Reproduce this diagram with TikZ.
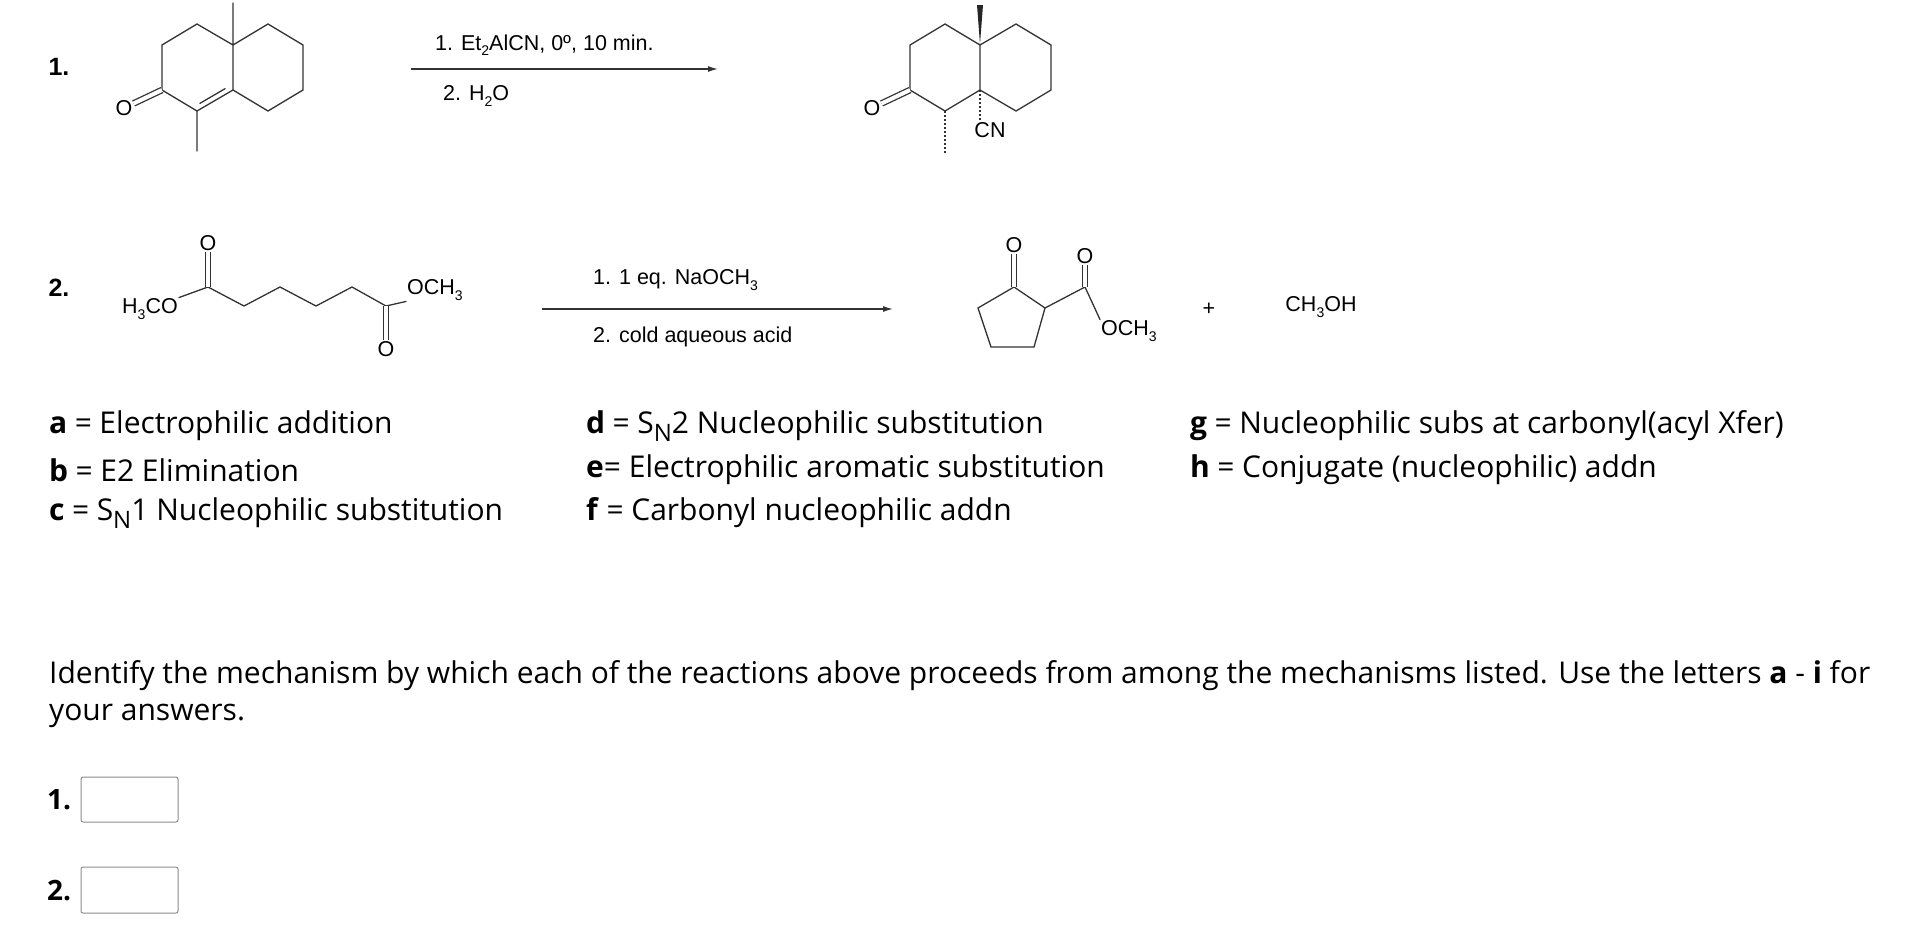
\documentclass[tikz,border=0pt]{standalone}
\usepackage{fontspec}
\usetikzlibrary{calc,arrows.meta}
\setmainfont{Open Sans}
\newfontfamily\ar{Liberation Sans}
\newcommand{\sbs}[1]{\raisebox{-0.25em}{\fontsize{14}{16}\selectfont #1}}
\newcommand{\eqs}{\hspace{0.25em}=\hspace{0.25em}}
\begin{document}
\begin{tikzpicture}[x=1pt,y=-1pt,
 bd/.style={line width=1.3pt,line cap=round,color=black!80},
 dbl/.style={bd,double=white,double distance=4pt,line cap=butt},
 chem/.style={font=\ar\fontsize{21.5}{24}\selectfont,inner sep=1pt},
 lab/.style={font=\ar\bfseries\fontsize{25}{28}\selectfont,inner sep=0pt},
 leg/.style={font=\fontsize{30}{34}\selectfont,anchor=west,inner sep=0pt},
 arr/.style={line width=1.3pt,color=black!80,-{Latex[length=10pt,width=6pt]}}]
\useasboundingbox (0,0) rectangle (1914,940);
% ---------- reaction 1
\node[lab] (l1) at (59,67) {1.};
\coordinate (A) at (197,24); \coordinate (B) at (233,45); \coordinate (C) at (233,90);
\coordinate (D) at (197,111); \coordinate (E) at (162,90); \coordinate (F) at (162,45);
\coordinate (G) at (268,24); \coordinate (H) at (303,45); \coordinate (I) at (303,90);
\coordinate (J) at (268,111); \coordinate (Mu) at (233,3); \coordinate (Md) at (197,151);
\node[chem] (O1) at (124,108) {O};
\draw[bd] (A)--(B)--(C)--(D)--(E)--(F)--cycle (B)--(G)--(H)--(I)--(J)--(C) (B)--(Mu) (D)--(Md);
\draw[bd] ($(C)!0.15!(D)+(-2.5,-4.5)$)--($(C)!0.85!(D)+(-2.5,-4.5)$);
\draw[dbl] (E)--(O1);
\coordinate (a1s) at (411,69); \coordinate (a1e) at (718,69);
\draw[arr] (a1s)--(a1e);
\node[chem,anchor=west] (r1a) at (434,45) {1. Et\sbs{2}AlCN, 0º, 10 min.};
\node[chem,anchor=west] (r1b) at (442,96) {2. H\sbs{2}O};
% product 1
\coordinate (PA) at (945,24); \coordinate (PB) at (980,45); \coordinate (PC) at (980,90);
\coordinate (PD) at (945,111); \coordinate (PE) at (910,90); \coordinate (PF) at (910,45);
\coordinate (PG) at (1016,24); \coordinate (PH) at (1051,45); \coordinate (PI) at (1051,90);
\coordinate (PJ) at (1016,111); \coordinate (PMu) at (980,5); \coordinate (PMd) at (945,153);
\node[chem] (O2) at (872,108) {O};
\node[chem] (CN) at (990,130) {CN};
\draw[bd] (PA)--(PB)--(PC)--(PD)--(PE)--(PF)--cycle (PB)--(PG)--(PH)--(PI)--(PJ)--(PC);
\draw[dbl] (PE)--(O2);
\fill[black!85] ($(PB)+(0,-1)$)--($(PMu)+(-3,0)$)--($(PMu)+(3,0)$)--cycle;
\draw[line width=1.3pt,black!80,dash pattern=on 1.6pt off 2.4pt] (PD)--(PMd);
\draw[line width=1.3pt,black!80,dash pattern=on 1.6pt off 2.4pt] (PC)--(PC|-CN.north);
% ---------- reaction 2
\node[lab] (l2) at (59,288) {2.};
\node[chem] (h3co) at (150,309) {H\sbs{3}CO};
\coordinate (c1) at (208,287); \coordinate (c2) at (244,306); \coordinate (c3) at (280,287);
\coordinate (c4) at (316,306); \coordinate (c5) at (352,287); \coordinate (c6) at (386,306);
\node[chem] (Ot) at (208,243) {O};
\node[chem] (Ob) at (386,349) {O};
\node[chem,anchor=west] (och3a) at (406,290) {OCH\sbs{3}};
\draw[bd] (h3co.north east)--(c1)--(c2)--(c3)--(c4)--(c5)--(c6)--(och3a.south west);
\draw[dbl] (c1)--(Ot); \draw[dbl] (c6)--(Ob);
\coordinate (a2s) at (542,309); \coordinate (a2e) at (893,309);
\draw[arr] (a2s)--(a2e);
\node[chem,anchor=west] (r2a) at (592,280) {1. 1 eq. NaOCH\sbs{3}};
\node[chem,anchor=west] (r2b) at (592,337) {2. cold aqueous acid};
% product 2
\coordinate (k1) at (1014,287); \coordinate (k2) at (1045,308); \coordinate (k3) at (1034,347);
\coordinate (k4) at (991,347); \coordinate (k5) at (978,308); \coordinate (k6) at (1085,287);
\node[chem] (Ok) at (1014,245) {O};
\node[chem] (Oe) at (1085,256) {O};
\node[chem,anchor=west] (och3b) at (1100,331) {OCH\sbs{3}};
\draw[bd] (k1)--(k2)--(k3)--(k4)--(k5)--cycle (k2)--(k6)--(och3b.north west);
\draw[dbl] (k1)--(Ok); \draw[dbl] (k6)--(Oe);
\node[chem] (plus) at (1209,309) {+};
\node[chem] (meoh) at (1321,307) {CH\sbs{3}OH};
% ---------- legend
\node[leg] (la) at (49,426) {\textbf{a}\eqs Electrophilic addition};
\node[leg] (lb) at (49,470) {\textbf{b}\eqs E2 Elimination};
\node[leg] (lc) at (49,513) {\textbf{c}\eqs S\sbs{\fontsize{24}{26}\selectfont N}1 Nucleophilic substitution};
\node[leg] (ld) at (586,426) {\textbf{d}\eqs S\sbs{\fontsize{24}{26}\selectfont N}2 Nucleophilic substitution};
\node[leg] (le) at (586,470) {\textbf{e}= Electrophilic aromatic substitution};
\node[leg] (lf) at (586,513) {\textbf{f}\eqs Carbonyl nucleophilic addn};
\node[leg] (lg) at (1190,426) {\textbf{g}\eqs Nucleophilic subs at carbonyl(acyl Xfer)};
\node[leg] (lh) at (1190,470) {\textbf{h}\eqs Conjugate (nucleophilic) addn};
% ---------- question
\node[leg] (q1) at (49,676) {Identify the mechanism by which each of the reactions above proceeds from among the mechanisms listed. Use the letters \textbf{a} - \textbf{i} for};
\node[leg] (q2) at (49,716) {your answers.};
\node[leg,font=\bfseries\fontsize{28}{30}\selectfont] (n1) at (47,800) {1.};
\draw[black!45,line width=1pt,rounded corners=2pt] (81,777) rectangle (178,822);
\node[leg,font=\bfseries\fontsize{28}{30}\selectfont] (n2) at (47,891) {2.};
\draw[black!45,line width=1pt,rounded corners=2pt] (81,867) rectangle (178,913);
\end{tikzpicture}
\end{document}
